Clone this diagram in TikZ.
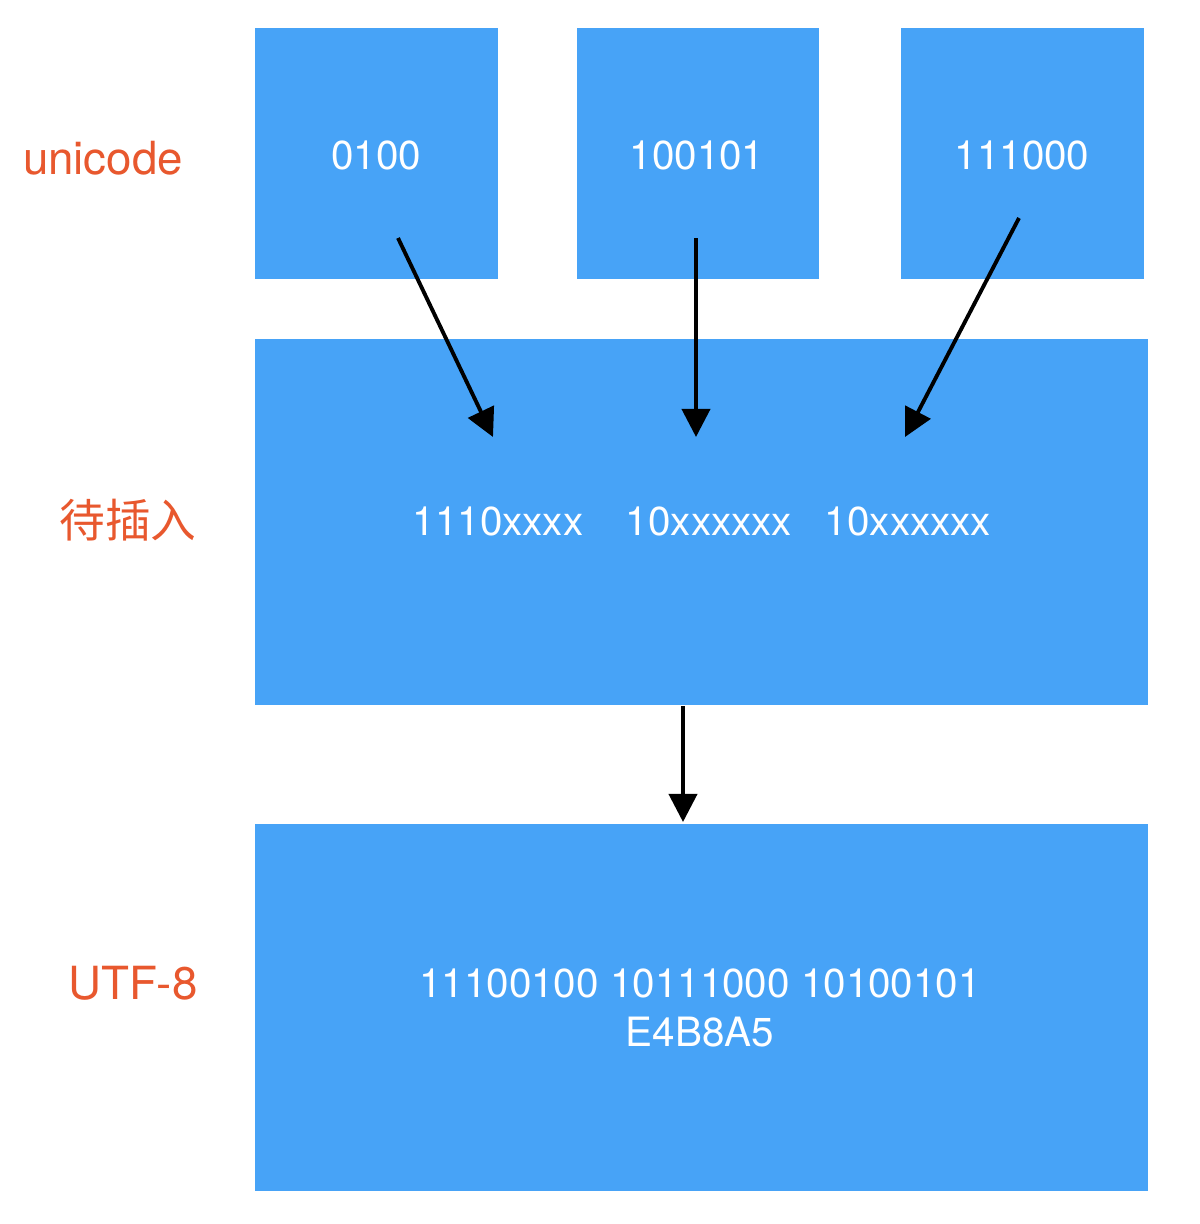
\documentclass[tikz,border=0pt]{standalone}
\usepackage{fontspec}
\setmainfont{TeX Gyre Heros}
\newfontfamily\cjk{Noto Sans CJK SC}
\usetikzlibrary{arrows.meta}
\definecolor{boxblue}{HTML}{47A3F7}
\definecolor{labelred}{HTML}{E8582E}
\tikzset{
    box/.style = {fill=boxblue, draw=none},
    bits/.style = {text=white, font=\fontsize{23}{30}\selectfont, align=center},
    side/.style = {text=labelred, font=\fontsize{26}{30}\selectfont},
    flow/.style = {line width=2.2pt, -{Triangle[length=16pt, width=16pt]}}
}
\begin{document}
\begin{tikzpicture}[x=0.02cm, y=-0.02cm]
        \useasboundingbox (0,0) rectangle (1200,1224);

        % blue blocks
        \fill[box] (255,28) rectangle (498,279);
        \fill[box] (577,28) rectangle (819,279);
        \fill[box] (901,28) rectangle (1144,279);
        \fill[box] (255,339) rectangle (1148,705);
        \fill[box] (255,824) rectangle (1148,1191);

        % row labels
        \node[side] (lunicode) at (103,158) {unicode};
        \node[side] (linsert) at (128,520) {\cjk 待插入};
        \node[side] (lutf) at (133,983) {UTF-8};

        % code points
        \node[bits] (ua) at (376,155) {0100};
        \node[bits] (ub) at (697,155) {100101};
        \node[bits] (uc) at (1022,155) {111000};

        % templates
        \node[bits] (ta) at (498,521) {1110xxxx};
        \node[bits] (tb) at (709,521) {10xxxxxx};
        \node[bits] (tc) at (908,521) {10xxxxxx};

        % result
        \node[bits] (res) at (700,1008) {11100100 10111000 10100101\\[-2pt]E4B8A5};

        % arrow ends
        \coordinate (sa) at (398,238);
        \coordinate (ea) at (493,437);
        \coordinate (sb) at (696,238);
        \coordinate (eb) at (696,437);
        \coordinate (sc) at (1019,218);
        \coordinate (ec) at (905,437);
        \coordinate (sd) at (683,706);
        \coordinate (ed) at (683,822);

        \draw[flow] (sa) -- (ea);
        \draw[flow] (sb) -- (eb);
        \draw[flow] (sc) -- (ec);
        \draw[flow] (sd) -- (ed);
    \end{tikzpicture}
\end{document}
